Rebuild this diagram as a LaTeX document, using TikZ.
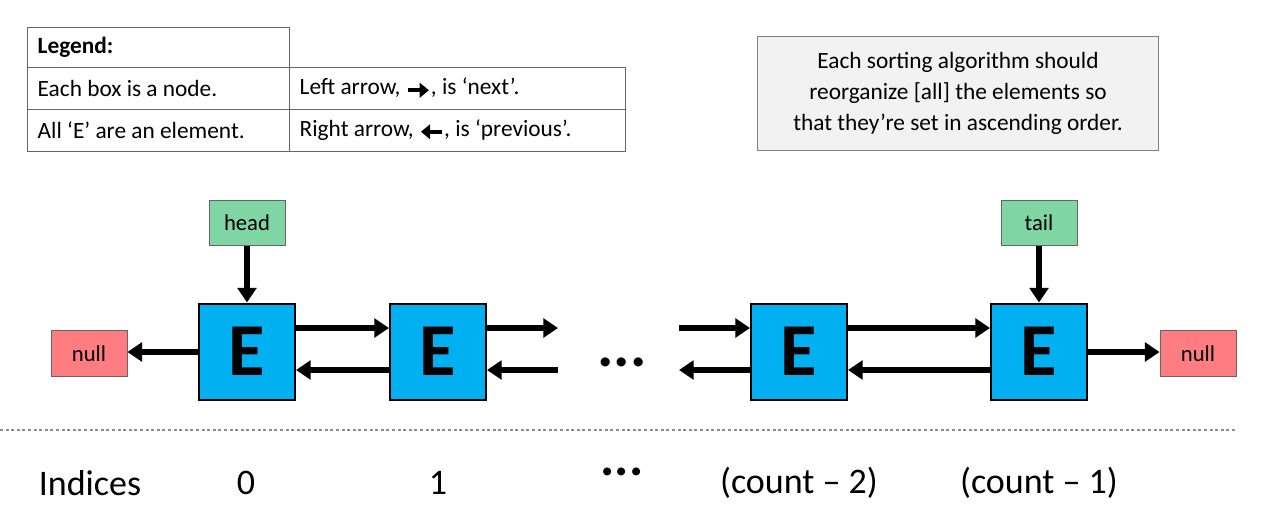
\documentclass[tikz,border=0pt]{standalone}
\usepackage{fontspec}
\setmainfont{Carlito}
\usetikzlibrary{arrows.meta}
\definecolor{eblue}{HTML}{00B0F0}
\definecolor{lgreen}{HTML}{7FD6A4}
\definecolor{lred}{HTML}{FF7C80}
\begin{document}
\begin{tikzpicture}[x=0.75pt,y=-0.75pt,
  ebox/.style={draw=black,line width=1.5pt,fill=eblue,minimum width=72pt,minimum height=72pt,font=\fontsize{56}{56}\selectfont\bfseries,inner sep=0},
  lbl/.style={draw=black!60,line width=0.6pt,minimum width=57pt,minimum height=34pt,font=\fontsize{17}{20}\selectfont,inner sep=0},
  arr/.style={line width=3.8pt,-{Triangle[length=11pt,width=14pt]}},
  cell/.style={anchor=west,font=\fontsize{17.5}{20}\selectfont},
  idx/.style={font=\fontsize{27}{30}\selectfont}]
\useasboundingbox (0,0) rectangle (1262,526);
% legend
\draw[black!60,line width=0.6pt] (27,27) rectangle (289,67);
\draw[black!60,line width=0.6pt] (27,67) rectangle (625,151);
\draw[black!60,line width=0.6pt] (27,109) -- (625,109) (289,67) -- (289,151);
\node[cell] (lg) at (33,47) {\textbf{Legend:}};
\node[cell] (l1) at (33,88) {Each box is a node.};
\node[cell] (l2) at (33,130) {All ‘E’ are an element.};
\node[cell] (r1) at (295,88) {Left arrow, \tikz[baseline=-3.5pt]\draw[line width=3pt,-{Triangle[length=7pt,width=11pt]}] (0,0)--(16pt,0);, is ‘next’.};
\node[cell] (r2) at (295,130) {Right arrow, \tikz[baseline=-3.5pt]\draw[line width=3pt,-{Triangle[length=7pt,width=11pt]}] (16pt,0)--(0,0);, is ‘previous’.};
% note
\node[draw=black!50,fill=black!5,line width=0.6pt,minimum width=301pt,minimum height=86pt,align=center,font=\fontsize{17.5}{23}\selectfont] (note) at (958,93.5) {Each sorting algorithm should\\reorganize [all] the elements so\\that they’re set in ascending order.};
% nodes
\node[ebox] (e1) at (247,351.5) {E};
\node[ebox] (e2) at (438,351.5) {E};
\node[ebox] (e3) at (799,351.5) {E};
\node[ebox] (e4) at (1039,351.5) {E};
\node[lbl,fill=lgreen] (head) at (247,223) {head};
\node[lbl,fill=lgreen] (tail) at (1039,223) {tail};
\node[lbl,fill=lred] (n1) at (89,353.5) {null};
\node[lbl,fill=lred] (n2) at (1198,353.5) {null};
\node[font=\fontsize{46}{46}\selectfont\bfseries] (dots) at (622,362) {...};
\coordinate (o2t) at (558,328); \coordinate (o2b) at (558,370);
\coordinate (i3t) at (679,328); \coordinate (i3b) at (679,370);
% arrows
\draw[arr] (head.south) -- (e1.north);
\draw[arr] (tail.south) -- (e4.north);
\draw[arr] (e1.west|-0,352) -- (n1.east|-0,352);
\draw[arr] (e4.east|-0,352) -- (n2.west|-0,352);
\draw[arr] (e1.east|-0,328) -- (e2.west|-0,328);
\draw[arr] (e2.west|-0,370) -- (e1.east|-0,370);
\draw[arr] (e2.east|-0,328) -- (o2t);
\draw[arr] (o2b) -- (e2.east|-0,370);
\draw[arr] (i3t) -- (e3.west|-0,328);
\draw[arr] (e3.west|-0,370) -- (i3b);
\draw[arr] (e3.east|-0,328) -- (e4.west|-0,328);
\draw[arr] (e4.west|-0,370) -- (e3.east|-0,370);
% divider
\draw[black!45,line width=2.2pt,dotted] (0,430) -- (1235,430);
% indices
\node[idx] (ix) at (90,483) {Indices};
\node[idx] (i0) at (246,483) {0};
\node[idx] (i1) at (438,483) {1};
\node[idx,font=\fontsize{40}{40}\selectfont\bfseries] (id) at (622,472) {...};
\node[idx] (ic2) at (799,483) {(count – 2)};
\node[idx] (ic1) at (1039,483) {(count – 1)};
\end{tikzpicture}
\end{document}
